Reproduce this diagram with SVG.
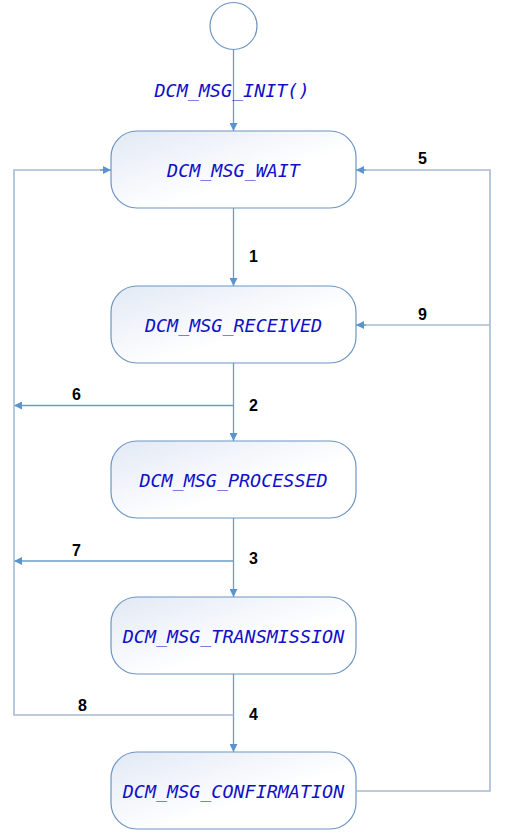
<svg xmlns="http://www.w3.org/2000/svg" width="521" height="833" viewBox="0 0 521 833">
<style>
.st{fill:url(#g);stroke:#6d95c2;stroke-width:1.2}
.lbl{font-family:"DejaVu Sans Mono",monospace;font-style:italic;font-size:18.4px;fill:#1010c8;text-anchor:middle}
.num{font-family:"Liberation Sans",Arial,sans-serif;font-weight:bold;font-size:16px;fill:#000}
.c{fill:none;stroke:#6a9bd0;stroke-width:1.3}
.o{fill:none;stroke:#a7bbd4;stroke-width:1.6}
</style>
<defs>
<linearGradient id="g" x1="0" y1="0" x2="1" y2="1">
<stop offset="0" stop-color="#e2e9f5"/>
<stop offset="0.6" stop-color="#ffffff"/>
</linearGradient>
<marker id="a" viewBox="0 0 10 10" refX="10" refY="5" markerWidth="8" markerHeight="8" markerUnits="userSpaceOnUse" orient="auto">
<path d="M0,0 L10,5 L0,10 z" fill="#5b93cf"/>
</marker>
</defs>
<g id="init"><circle cx="233.5" cy="26" r="23.5" fill="#fff" stroke="#6d95c2" stroke-width="1.2"/></g>
<g id="wait"><rect class="st" x="111" y="131" width="245" height="77" rx="26"/><text class="lbl" x="233.5" y="176.5">DCM_MSG_WAIT</text></g>
<g id="received"><rect class="st" x="111" y="286" width="245" height="77" rx="26"/><text class="lbl" x="233.5" y="331.5">DCM_MSG_RECEIVED</text></g>
<g id="processed"><rect class="st" x="111" y="441" width="245" height="77" rx="26"/><text class="lbl" x="233.5" y="486.5">DCM_MSG_PROCESSED</text></g>
<g id="transmission"><rect class="st" x="111" y="597" width="245" height="77" rx="26"/><text class="lbl" x="233.5" y="642.5">DCM_MSG_TRANSMISSION</text></g>
<g id="confirmation"><rect class="st" x="111" y="752" width="245" height="77" rx="26"/><text class="lbl" x="233.5" y="797.5">DCM_MSG_CONFIRMATION</text></g>
<g id="connectors">
<path class="c" d="M233.5,49.5 V131" marker-end="url(#a)"/>
<text class="lbl" x="232" y="96.5">DCM_MSG_INIT()</text>
<path class="c" d="M233.5,208 V286" marker-end="url(#a)"/>
<path class="c" d="M233.5,363 V441" marker-end="url(#a)"/>
<path class="c" d="M233.5,518 V597" marker-end="url(#a)"/>
<path class="c" d="M233.5,674 V752" marker-end="url(#a)"/>
<path class="c" d="M233.5,405.5 H14" marker-end="url(#a)"/>
<path class="c" d="M233.5,561 H14" marker-end="url(#a)"/>
<path class="o" d="M233.5,715 H14 V170 H104"/>
<path class="c" d="M100,170 H111" marker-end="url(#a)"/>
<path class="o" d="M356,791 H490 V170 H364"/>
<path class="c" d="M366,170 H356" marker-end="url(#a)"/>
<path class="o" d="M490,325 H364"/>
<path class="c" d="M366,325 H356" marker-end="url(#a)"/>
<text class="num" x="249" y="262">1</text>
<text class="num" x="249" y="411">2</text>
<text class="num" x="249" y="564">3</text>
<text class="num" x="249" y="720">4</text>
<text class="num" x="418" y="164">5</text>
<text class="num" x="418" y="320">9</text>
<text class="num" x="72" y="400">6</text>
<text class="num" x="72" y="556">7</text>
<text class="num" x="78" y="711">8</text>
</g>
</svg>
